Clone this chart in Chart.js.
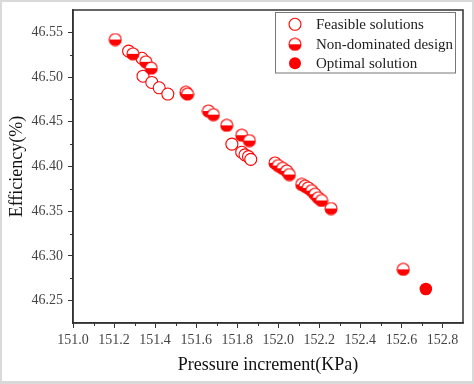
<!DOCTYPE html>
<html>
<head>
<meta charset="utf-8">
<script src="https://cdn.jsdelivr.net/npm/chart.js@4/dist/chart.umd.min.js"></script>
<style>
  html, body { margin: 0; padding: 0; background: #d9d9d9; }
  #wrap { position: absolute; left: 2px; top: 2px; width: 470px; height: 379px; background: #fff; }
</style>
</head>
<body>
<div id="wrap"><canvas id="chart" width="470" height="379"></canvas></div>
<script>
// scatter of design points - efficiency vs pressure increment

const feasibleX = [151.271, 151.336, 151.341, 151.384, 151.420, 151.462, 151.774, 151.822, 151.838, 151.855, 151.866];
const feasibleY = [46.529, 46.521, 46.501, 46.494, 46.488, 46.481, 46.425, 46.416, 46.413, 46.411, 46.408];

const nonDomX = [151.206, 151.292, 151.355, 151.381, 151.550, 151.558, 151.660, 151.684, 151.749, 151.822, 151.859,
  151.984, 152.000, 152.021, 152.041, 152.054, 152.114, 152.130, 152.146, 152.163, 152.179, 152.195, 152.211, 152.257, 152.609];
const nonDomY = [46.542, 46.526, 46.517, 46.510, 46.483, 46.481, 46.462, 46.458, 46.446, 46.435, 46.429,
  46.404, 46.401, 46.398, 46.395, 46.391, 46.380, 46.378, 46.376, 46.373, 46.369, 46.365, 46.362, 46.353, 46.285];

const optimalX = [152.719];
const optimalY = [46.263];

const xTicks = [151.0, 151.2, 151.4, 151.6, 151.8, 152.0, 152.2, 152.4, 152.6, 152.8];
const yTicks = [46.25, 46.30, 46.35, 46.40, 46.45, 46.50, 46.55];
const xMinor = [151.1, 151.3, 151.5, 151.7, 151.9, 152.1, 152.3, 152.5, 152.7];
const yMinor = [46.275, 46.325, 46.375, 46.425, 46.475, 46.525];

const legendLabels = ["Feasible solutions", "Non-dominated design", "Optimal solution"];

const RED = "#ff0000";
const AXIS = "#333333";

function toPoints(xs, ys) {
  return xs.map((x, i) => ({ x: x, y: ys[i] }));
}

// half filled marker: white top, red bottom
function halfMarker(r) {
  const c = document.createElement("canvas");
  const s = Math.ceil(r * 2 + 2);
  c.width = s; c.height = s;
  const g = c.getContext("2d");
  const m = s / 2;
  g.beginPath(); g.arc(m, m, r, 0, Math.PI * 2); g.fillStyle = "#fff"; g.fill();
  g.beginPath(); g.arc(m, m, r, 0, Math.PI); g.closePath(); g.fillStyle = RED; g.fill();
  g.beginPath(); g.arc(m, m, r, 0, Math.PI * 2); g.strokeStyle = RED; g.lineWidth = 1.1; g.stroke();
  return c;
}
const halfImg = halfMarker(6);

const framePlugin = {
  id: "frame",
  afterDraw(chart) {
    const { ctx, chartArea: a, scales } = chart;
    ctx.save();
    ctx.strokeStyle = AXIS;
    ctx.lineWidth = 1.5;
    ctx.strokeRect(a.left, a.top, a.right - a.left, a.bottom - a.top);
    ctx.lineWidth = 1;
    ctx.beginPath();
    xMinor.forEach(v => {
      const px = Math.round(scales.x.getPixelForValue(v)) + 0.5;
      ctx.moveTo(px, a.bottom); ctx.lineTo(px, a.bottom + 3);
    });
    yMinor.forEach(v => {
      const py = Math.round(scales.y.getPixelForValue(v)) + 0.5;
      ctx.moveTo(a.left, py); ctx.lineTo(a.left - 3, py);
    });
    ctx.stroke();

    // legend box
    const bx = 273, by = 10.5, bw = 180, bh = 60.5;
    ctx.strokeStyle = "#777";
    ctx.lineWidth = 1;
    ctx.strokeRect(bx + 0.5, by, bw, bh);
    const rows = [22.3, 42.3, 61.3];
    ctx.font = "15px 'Liberation Serif'";
    ctx.textBaseline = "middle";
    ctx.fillStyle = "#222";
    rows.forEach((ry, i) => {
      const mx = 293;
      if (i === 0) {
        ctx.beginPath(); ctx.arc(mx, ry, 6, 0, Math.PI * 2);
        ctx.fillStyle = "#fff"; ctx.fill();
        ctx.strokeStyle = RED; ctx.lineWidth = 1.1; ctx.stroke();
      } else if (i === 1) {
        ctx.drawImage(halfImg, mx - halfImg.width / 2, ry - halfImg.height / 2);
      } else {
        ctx.beginPath(); ctx.arc(mx, ry, 6, 0, Math.PI * 2);
        ctx.fillStyle = RED; ctx.fill();
      }
      ctx.fillStyle = "#222";
      ctx.fillText(legendLabels[i], 314, ry + 0.5);
    });
    ctx.restore();
  }
};

new Chart(document.getElementById("chart"), {
  type: "scatter",
  data: {
    datasets: [
      {
        label: legendLabels[0],
        data: toPoints(feasibleX, feasibleY),
        pointStyle: "circle",
        pointRadius: 6,
        backgroundColor: "#fff",
        borderColor: RED,
        borderWidth: 1.1,
        order: 3
      },
      {
        label: legendLabels[1],
        data: toPoints(nonDomX, nonDomY),
        pointStyle: halfImg,
        pointRadius: 6,
        order: 2
      },
      {
        label: legendLabels[2],
        data: toPoints(optimalX, optimalY),
        pointStyle: "circle",
        pointRadius: 6.3,
        backgroundColor: RED,
        borderColor: RED,
        borderWidth: 0,
        order: 1
      }
    ]
  },
  options: {
    responsive: false,
    animation: false,
    devicePixelRatio: 1,
    layout: { padding: { top: 8, right: 9, left: 0, bottom: 0 } },
    plugins: { legend: { display: false }, tooltip: { enabled: false } },
    scales: {
      x: {
        min: 151.0,
        max: 152.9,
        afterBuildTicks: s => { s.ticks = xTicks.map(v => ({ value: v })); },
        afterFit: s => { s.height = 58; s.paddingLeft = 0; s.paddingRight = 0; },
        grid: { display: true, drawOnChartArea: false, drawTicks: true, tickLength: 5, color: AXIS, tickWidth: 1 },
        border: { display: true, color: AXIS, width: 1.5 },
        ticks: {
          callback: v => v.toFixed(1),
          font: { family: "'Liberation Serif'", size: 14 },
          color: "#444",
          padding: 4,
          maxRotation: 0,
          autoSkip: false
        },
        title: {
          display: true,
          text: "Pressure increment(KPa)",
          font: { family: "'Liberation Serif'", size: 18 },
          color: "#111",
          padding: { top: 0, bottom: 4.5 }
        }
      },
      y: {
        min: 46.225,
        max: 46.575,
        afterBuildTicks: s => { s.ticks = yTicks.map(v => ({ value: v })); },
        afterFit: s => { s.width = 71; s.paddingTop = 0; s.paddingBottom = 0; },
        grid: { display: true, drawOnChartArea: false, drawTicks: true, tickLength: 5, color: AXIS, tickWidth: 1 },
        border: { display: true, color: AXIS, width: 1.5 },
        ticks: {
          callback: v => v.toFixed(2),
          font: { family: "'Liberation Serif'", size: 14 },
          color: "#444",
          padding: 5,
          autoSkip: false
        },
        title: {
          display: true,
          text: "Efficiency(%)",
          font: { family: "'Liberation Serif'", size: 18 },
          color: "#111",
          padding: { top: 4, bottom: 0 }
        }
      }
    }
  },
  plugins: [framePlugin]
});
</script>
</body>
</html>
